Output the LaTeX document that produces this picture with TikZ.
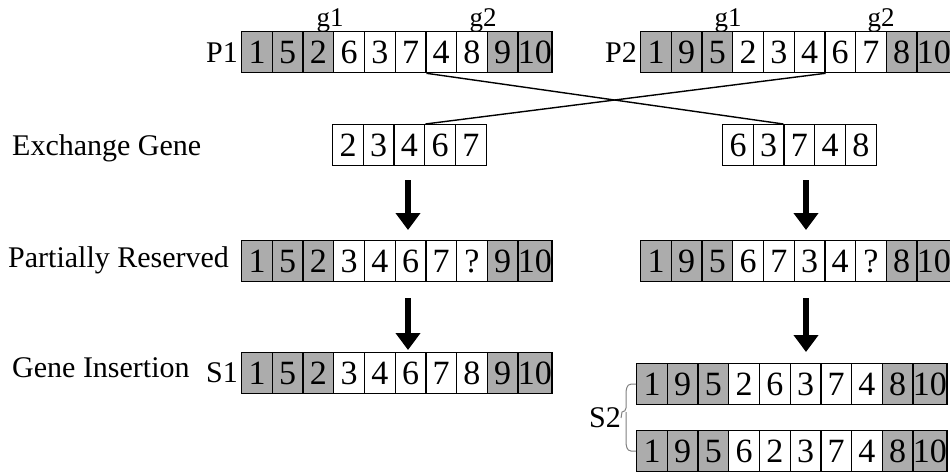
\documentclass[tikz,border=0pt]{standalone}
\usepackage{fontspec}
\setmainfont{Liberation Serif}
\usetikzlibrary{arrows.meta}
\begin{document}
\begin{tikzpicture}[x=1pt,y=-1pt,
  cell/.style={draw=black,line width=1.3pt,minimum width=30.7pt,minimum height=41pt,inner sep=0pt,anchor=north west,font=\fontsize{34}{34}\selectfont},
  g/.style={cell,fill=gray!65},
  w/.style={cell,fill=white},
  lab/.style={font=\fontsize{30}{30}\selectfont,inner sep=0pt},
  glab/.style={font=\fontsize{27}{27}\selectfont,inner sep=0pt,anchor=base},
  big/.style={-{Triangle[length=17pt,width=24pt]},line width=6pt},
  cross/.style={line width=1.4pt}]
\useasboundingbox (0,0) rectangle (950,476);
\newcommand{\generow}[4]{%
  \foreach \v/\s [count=\i from 0] in {#4} {%
    \node[\s] (#1\i) at ({#2+\i*30.7},#3) {\v};}}
\generow{pa}{241}{31}{1/g,5/g,2/g,6/w,3/w,7/w,4/w,8/w,9/g,10/g}
\generow{pb}{640}{31}{1/g,9/g,5/g,2/w,3/w,4/w,6/w,7/w,8/g,10/g}
\generow{ea}{332}{124}{2/w,3/w,4/w,6/w,7/w}
\generow{eb}{722}{124}{6/w,3/w,7/w,4/w,8/w}
\generow{ra}{241}{240}{1/g,5/g,2/g,3/w,4/w,6/w,7/w,?/w,9/g,10/g}
\generow{rb}{640}{240}{1/g,9/g,5/g,6/w,7/w,3/w,4/w,?/w,8/g,10/g}
\generow{sa}{241}{352}{1/g,5/g,2/g,3/w,4/w,6/w,7/w,8/w,9/g,10/g}
\generow{sb}{636}{363}{1/g,9/g,5/g,2/w,6/w,3/w,7/w,4/w,8/g,10/g}
\generow{sc}{636}{430}{1/g,9/g,5/g,6/w,2/w,3/w,7/w,4/w,8/g,10/g}
\node[lab,anchor=east] (p1) at ([xshift=-3pt]pa0.west) {P1};
\node[lab,anchor=east] (p2) at ([xshift=-3pt]pb0.west) {P2};
\node[glab] (g1a) at (330,27) {g1};
\node[glab] (g2a) at (483,27) {g2};
\node[glab] (g1b) at (728,27) {g1};
\node[glab] (g2b) at (881,27) {g2};
\node[lab,anchor=west] (l1) at (12,148) {Exchange Gene};
\node[lab,anchor=west] (l2) at (8,260) {Partially Reserved};
\node[lab,anchor=west] (l3) at (12,368) {Gene Insertion};
\node[lab,anchor=east] (s1) at ([xshift=-3pt]sa0.west) {S1};
\node[lab] (s2) at (605,418) {S2};
\draw[cross] (pa5.south east) -- (eb2.north west);
\draw[cross] (pb5.south east) -- (ea2.north east);
\coordinate (a1s) at (408,180); \coordinate (a1e) at (408,230);
\coordinate (a2s) at (806,180); \coordinate (a2e) at (806,230);
\coordinate (a3s) at (408,298); \coordinate (a3e) at (408,350);
\coordinate (a4s) at (806,298); \coordinate (a4e) at (806,352);
\draw[big] (a1s) -- (a1e);
\draw[big] (a2s) -- (a2e);
\draw[big] (a3s) -- (a3e);
\draw[big] (a4s) -- (a4e);
\draw[gray,line width=1pt] (sb0.west) -- ++(-5,0) to[out=180,in=90] ++(-5,10) -- (626,408) to[out=-90,in=0] ++(-4,4) -- (s2.east);
\draw[gray,line width=1pt] (626,412) -- (626,441) to[out=-90,in=180] ++(5,10) -- (sc0.west);
\end{tikzpicture}
\end{document}
